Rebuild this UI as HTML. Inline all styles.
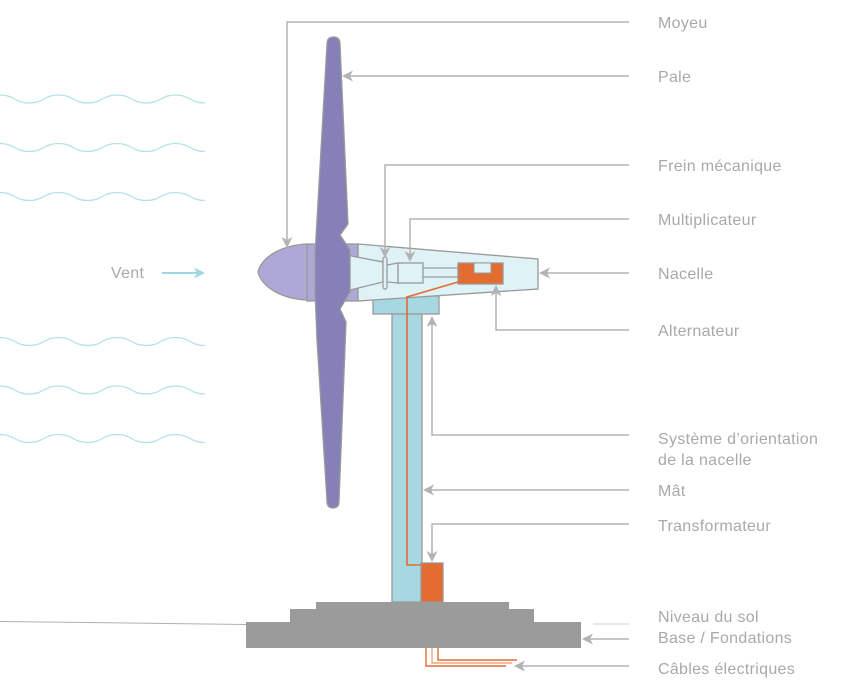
<!DOCTYPE html>
<html>
<head>
<meta charset="utf-8">
<style>
html,body{margin:0;padding:0;background:#fff;}
svg{display:block;}
text{font-family:"Liberation Sans",Arial,sans-serif;font-size:16px;fill:#a9a9a9;letter-spacing:0.3px;}
</style>
</head>
<body>
<svg width="850" height="696" viewBox="0 0 850 696" xmlns="http://www.w3.org/2000/svg">
<!-- waves -->
<g fill="none" stroke="#b3e0e9" stroke-width="1.2">
<path d="M0,0 c14.6,0 14.65,8 29.25,8 c14.6,0 14.65,-8 29.25,-8 c14.6,0 14.65,8 29.25,8 c14.6,0 14.65,-8 29.25,-8 c14.6,0 14.65,8 29.25,8 c14.6,0 14.65,-8 29.25,-8 c14.6,0 14.65,8 29.25,8" transform="translate(0,95)"/>
<path d="M0,0 c14.6,0 14.65,8 29.25,8 c14.6,0 14.65,-8 29.25,-8 c14.6,0 14.65,8 29.25,8 c14.6,0 14.65,-8 29.25,-8 c14.6,0 14.65,8 29.25,8 c14.6,0 14.65,-8 29.25,-8 c14.6,0 14.65,8 29.25,8" transform="translate(0,143.5)"/>
<path d="M0,0 c14.6,0 14.65,8 29.25,8 c14.6,0 14.65,-8 29.25,-8 c14.6,0 14.65,8 29.25,8 c14.6,0 14.65,-8 29.25,-8 c14.6,0 14.65,8 29.25,8 c14.6,0 14.65,-8 29.25,-8 c14.6,0 14.65,8 29.25,8" transform="translate(0,192.5)"/>
<path d="M0,0 c14.6,0 14.65,8 29.25,8 c14.6,0 14.65,-8 29.25,-8 c14.6,0 14.65,8 29.25,8 c14.6,0 14.65,-8 29.25,-8 c14.6,0 14.65,8 29.25,8 c14.6,0 14.65,-8 29.25,-8 c14.6,0 14.65,8 29.25,8" transform="translate(0,337.5)"/>
<path d="M0,0 c14.6,0 14.65,8 29.25,8 c14.6,0 14.65,-8 29.25,-8 c14.6,0 14.65,8 29.25,8 c14.6,0 14.65,-8 29.25,-8 c14.6,0 14.65,8 29.25,8 c14.6,0 14.65,-8 29.25,-8 c14.6,0 14.65,8 29.25,8" transform="translate(0,386)"/>
<path d="M0,0 c14.6,0 14.65,8 29.25,8 c14.6,0 14.65,-8 29.25,-8 c14.6,0 14.65,8 29.25,8 c14.6,0 14.65,-8 29.25,-8 c14.6,0 14.65,8 29.25,8 c14.6,0 14.65,-8 29.25,-8 c14.6,0 14.65,8 29.25,8" transform="translate(0,434.5)"/>
</g>

<!-- Vent -->
<text x="111" y="278">Vent</text>
<line x1="162" y1="273" x2="198" y2="273" stroke="#9fd6e2" stroke-width="2"/>
<polygon points="205,273 194,267.5 197,273 194,278.5" fill="#9fd6e2"/>

<!-- ground line -->
<line x1="0" y1="621.5" x2="246" y2="624.5" stroke="#b0b0b0" stroke-width="1"/>

<!-- tower + yaw -->
<rect x="392" y="312" width="30" height="290" fill="#a7d8e2" stroke="#999" stroke-width="1.3"/>
<rect x="373" y="296" width="66" height="18" fill="#a7d8e2" stroke="#999" stroke-width="1.3"/>

<!-- hub band -->
<rect x="307" y="244" width="51" height="57" fill="#ada8d6" stroke="#999" stroke-width="1.3"/>
<!-- hub nose -->
<path d="M307,244 C283,245 262,256 258,272 C262,288 283,299 307,300 Z" fill="#ada8d6" stroke="#999" stroke-width="1.3"/>

<!-- nacelle -->
<polygon points="358,244 538,259 538,289 358,301" fill="#dff2f5" stroke="#999" stroke-width="1.3"/>
<!-- inner shaft cone -->
<polygon points="346,255 383,262 383,282 346,291" fill="#dff2f5" stroke="#999" stroke-width="1.3"/>
<!-- funnel to gearbox -->
<polygon points="387,265 398,263 398,283 387,282" fill="#dff2f5" stroke="#999" stroke-width="1.2"/>
<!-- brake disk -->
<rect x="383" y="257" width="4" height="32" rx="2" fill="#dff2f5" stroke="#999" stroke-width="1.2"/>
<!-- gearbox -->
<rect x="398" y="263" width="25" height="20" fill="#dff2f5" stroke="#999" stroke-width="1.3"/>
<!-- shaft -->
<rect x="423" y="268" width="35" height="9" fill="#dff2f5" stroke="#999" stroke-width="1.2"/>
<!-- alternator -->
<rect x="458" y="263" width="45" height="21" fill="#e36c30" stroke="#999" stroke-width="1.3"/>
<rect x="474" y="263" width="17" height="10" fill="#dff2f5" stroke="#999" stroke-width="1"/>

<!-- blade -->
<path d="M327,44 Q327,37 333.5,37 Q340,37 340,44 L348,224 L340,235 L350,250 L350,292 L340,309 L346,322 L339,501 Q339,508 333,508 Q327,508 327,501 L317,340 L315,290 L315,255 L317,220 Z" fill="#8580b8" stroke="#999" stroke-width="1.3"/>

<!-- orange cable -->
<polyline points="458,282 407,297 407,565 421,565" fill="none" stroke="#e36c30" stroke-width="1.6"/>
<!-- transformer -->
<rect x="421" y="563" width="22" height="39" fill="#e36c30" stroke="#999" stroke-width="1.3"/>

<!-- foundation -->
<polygon points="316,602 509,602 509,609 534,609 534,622 581,622 581,648 246,648 246,622 290,622 290,609 316,609" fill="#9b9b9b"/>

<!-- cables -->
<g fill="none" stroke="#e36c30" stroke-width="1.4">
<polyline points="426,648 426,666 506,666"/>
<polyline points="432,648 432,663 512,663" stroke-opacity="0.6"/>
<polyline points="438,648 438,660 517,660"/>
</g>

<!-- connectors -->
<g fill="none" stroke="#b3b3b3" stroke-width="1.5">
<path d="M629,22 H287 V240"/>
<path d="M629,76 H350"/>
<path d="M629,165 H385 V250"/>
<path d="M629,219 H410 V254"/>
<path d="M629,273 H547"/>
<path d="M629,330 H496 V293"/>
<path d="M629,435 H432 V324"/>
<path d="M629,490 H431"/>
<path d="M629,524 H432 V554"/>
<path d="M629,639 H590"/>
<path d="M629,666 H522"/>
</g>
<line x1="593" y1="624" x2="629" y2="624" stroke="#d0d0d0" stroke-width="1"/>
<g fill="#b3b3b3">
<polygon points="287,248 281.5,237 287,240 292.5,237"/>
<polygon points="342,76 353,70.5 350,76 353,81.5"/>
<polygon points="385,258 379.5,247 385,250 390.5,247"/>
<polygon points="410,262 404.5,251 410,254 415.5,251"/>
<polygon points="539,273 550,267.5 547,273 550,278.5"/>
<polygon points="496,285 490.5,296 496,293 501.5,296"/>
<polygon points="432,316 426.5,327 432,324 437.5,327"/>
<polygon points="423,490 434,484.5 431,490 434,495.5"/>
<polygon points="432,562 426.5,551 432,554 437.5,551"/>
<polygon points="582,639 593,633.5 590,639 593,644.5"/>
<polygon points="514,666 525,660.5 522,666 525,671.5"/>
</g>

<!-- labels -->
<text x="658" y="28">Moyeu</text>
<text x="658" y="82">Pale</text>
<text x="658" y="171">Frein mécanique</text>
<text x="658" y="225">Multiplicateur</text>
<text x="658" y="279">Nacelle</text>
<text x="658" y="336">Alternateur</text>
<text x="658" y="444">Système d’orientation</text>
<text x="658" y="465">de la nacelle</text>
<text x="658" y="496">Mât</text>
<text x="658" y="531">Transformateur</text>
<text x="658" y="622">Niveau du sol</text>
<text x="658" y="643">Base / Fondations</text>
<text x="658" y="674">Câbles électriques</text>
</svg>
</body>
</html>
